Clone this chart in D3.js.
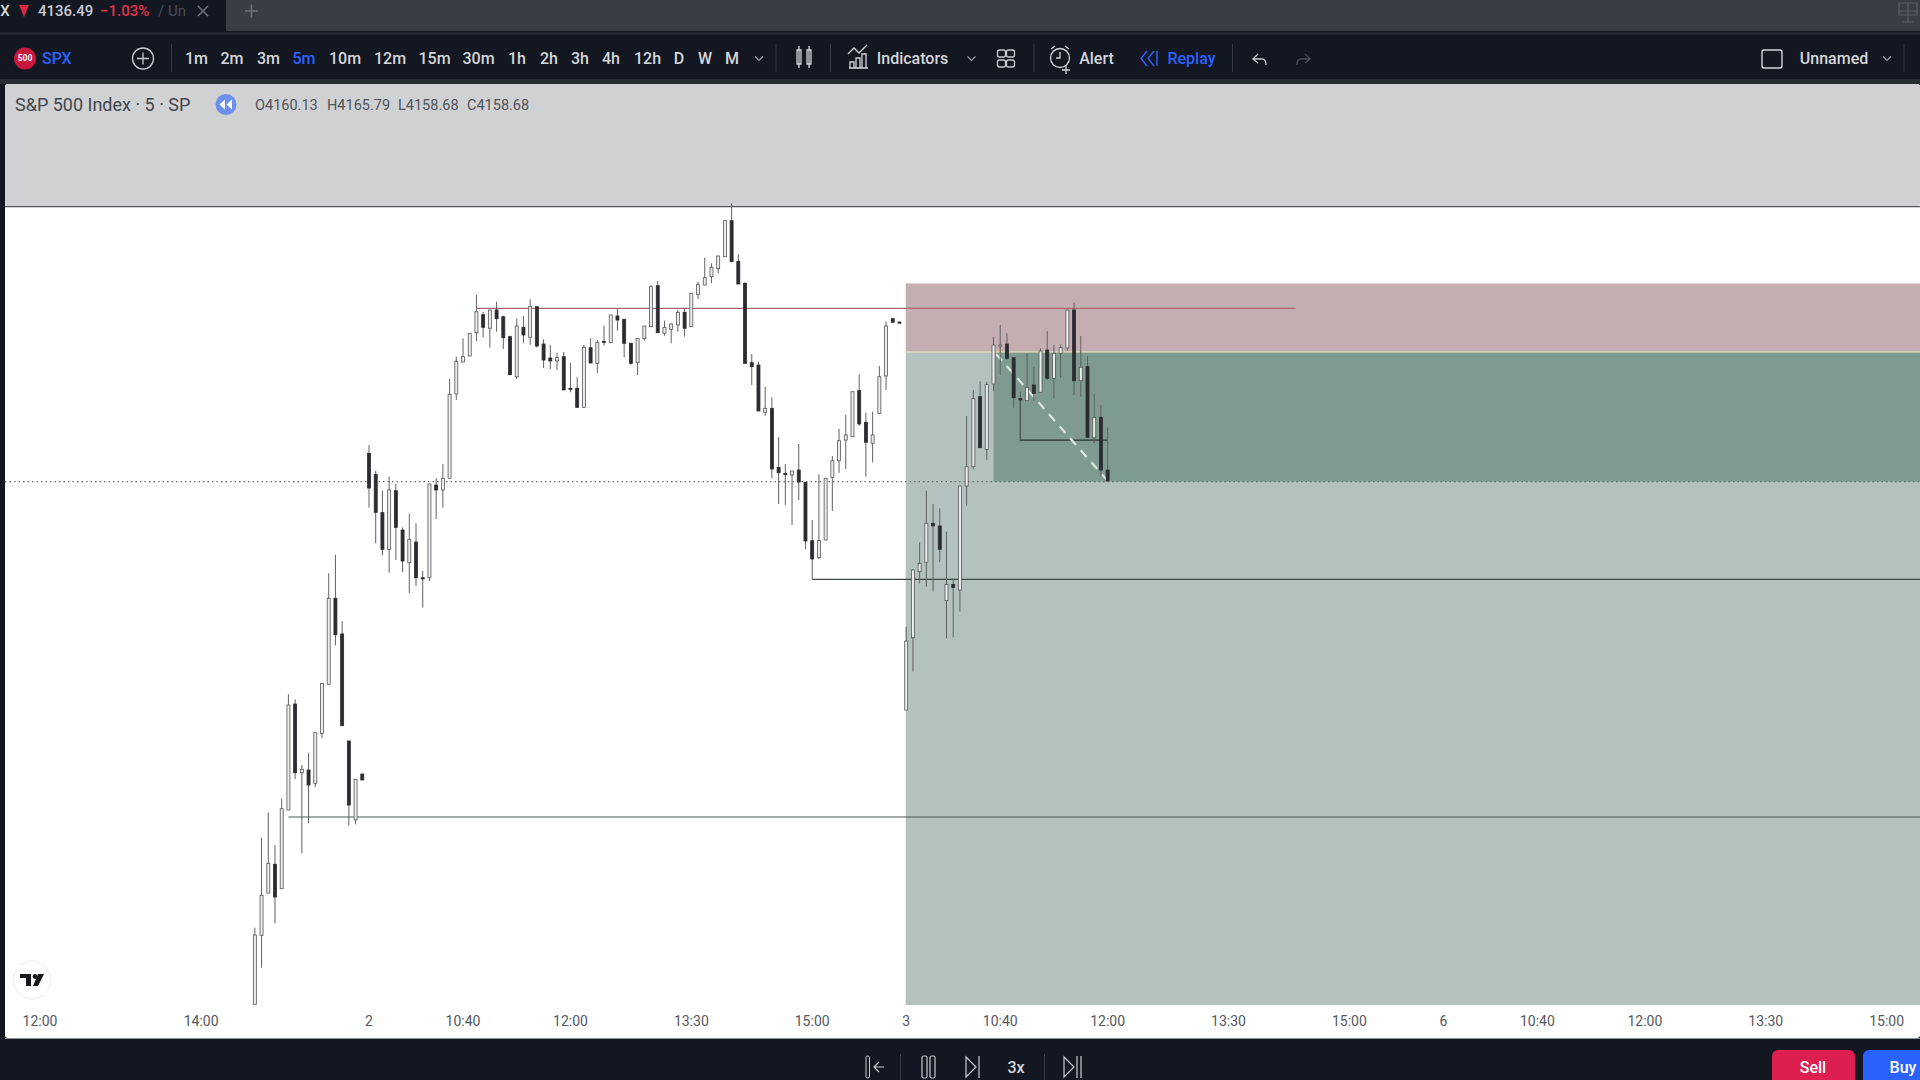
<!DOCTYPE html>
<html>
<head>
<meta charset="utf-8">
<script src="https://cdn.jsdelivr.net/npm/d3@7.9.0/dist/d3.min.js"></script>
<style>
  html, body { margin: 0; padding: 0; background: #131722; overflow: hidden; }
  svg { display: block; font-family: Roboto, sans-serif; }
</style>
</head>
<body>
<svg id="chart" width="1920" height="1080"></svg>
<script>
// 5 minute bars, index 0 is the first bar of the "2" session
const firstBar = -17;
const opens = [
  4088.90,4098.10,4103.74,4107.57,4104.32,4114.81,4128.94,4119.78,4120.14,4118.37,4125.04,4131.57,4143.04,4138.28,4124.01,4113.48,4119.61,
  4162.37,4159.57,4154.45,4149.57,4157.38,4152.14,4147.78,4150.54,4145.78,4145.78,
  4158.14,4157.48,4159.04,4170.28,4174.54,4175.34,4178.45,4180.85,4179.04,4181.48,
  4180.58,4177.92,4172.58,4179.17,4177.84,4181.92,4176.94,4175.08,4174.68,4175.25,
  4171.04,4171.04,4168.50,4176.45,4174.37,4177.30,4177.12,4180.68,4180.24,4177.04,
  4174.45,4177.65,4179.25,4184.72,4178.37,4178.90,4179.48,4181.17,4179.25,4183.57,
  4184.81,4185.92,4186.98,4188.58,4193.38,4187.97,4185.04,4174.45,4174.14,4167.84,
  4168.37,4160.50,4159.70,4159.48,4160.14,4158.50,4150.72,4148.45,4150.81,4159.17,
  4161.38,4164.14,4164.58,4170.72,4166.50,4163.70,4167.70,4172.68,4180.32,4179.88,
  4128.14,4137.78,4146.58,4147.84,4153.04,4152.68,4142.72,4144.90,4144.14,4158.01,
  4160.58,4169.92,4162.90,4171.61,4176.68,4176.94,4175.12,4169.65,4169.38,4171.48,
  4170.50,4176.14,4172.37,4175.70,4176.41,4181.48,4172.05,4173.92,4164.45,4167.17,4160.13
];
const highs = [
  4099.12,4111.12,4114.50,4110.14,4116.37,4130.24,4129.57,4120.81,4122.45,4125.17,4131.70,4146.37,4148.85,4140.01,4124.01,4118.94,4119.61,
  4163.48,4160.01,4157.38,4159.25,4158.28,4152.50,4154.28,4153.04,4146.68,4158.28,
  4159.04,4160.94,4172.28,4175.25,4177.70,4178.37,4183.48,4181.25,4181.48,4182.58,
  4180.72,4178.05,4180.37,4180.68,4182.90,4181.92,4177.57,4176.81,4175.78,4175.88,
  4174.45,4172.50,4176.81,4177.70,4177.48,4179.38,4180.81,4181.70,4180.24,4177.04,
  4177.70,4179.34,4184.81,4185.34,4180.05,4179.70,4181.48,4181.70,4183.70,4185.25,
  4188.45,4187.70,4188.72,4193.38,4195.70,4188.90,4185.17,4175.61,4174.58,4171.25,
  4169.84,4164.54,4160.94,4160.01,4163.61,4158.50,4153.48,4159.57,4159.04,4162.01,
  4165.61,4167.48,4170.58,4172.90,4167.78,4167.92,4174.01,4179.92,4180.32,4179.88,
  4139.25,4146.90,4150.50,4157.38,4155.61,4155.04,4151.92,4145.70,4158.01,4167.34,
  4170.81,4171.97,4171.92,4177.92,4179.48,4178.37,4175.12,4170.58,4175.70,4173.92,
  4176.37,4178.68,4176.81,4176.90,4181.48,4182.45,4178.01,4175.34,4170.28,4168.81,4165.79
];
const lows = [
  4088.90,4093.78,4103.74,4099.70,4104.32,4114.81,4118.94,4109.04,4113.04,4117.84,4124.37,4131.57,4136.77,4126.05,4112.72,4112.90,4118.81,
  4155.12,4150.37,4148.77,4146.45,4148.14,4146.54,4143.70,4144.68,4141.78,4145.34,
  4153.61,4155.12,4159.04,4169.48,4174.54,4175.34,4177.34,4177.84,4176.45,4178.58,
  4176.28,4172.85,4172.28,4177.04,4176.81,4176.45,4173.74,4173.61,4173.48,4170.81,
  4170.50,4168.50,4168.50,4174.41,4173.04,4176.72,4177.12,4178.72,4175.17,4174.18,
  4172.81,4177.38,4179.25,4178.45,4178.05,4177.04,4178.58,4177.92,4179.25,4182.94,
  4184.81,4185.04,4186.37,4188.58,4187.92,4184.94,4174.37,4171.48,4168.01,4167.38,
  4159.04,4155.61,4155.48,4152.81,4156.14,4149.57,4145.57,4148.28,4150.81,4154.68,
  4159.78,4160.28,4164.58,4166.05,4159.25,4161.17,4167.70,4170.81,4179.84,4179.78,
  4128.14,4133.25,4145.04,4144.58,4143.92,4147.84,4137.70,4137.84,4141.25,4155.38,
  4160.24,4163.12,4161.48,4170.68,4172.81,4174.81,4168.45,4164.14,4169.38,4169.38,
  4170.50,4172.14,4169.70,4172.50,4176.01,4170.14,4169.92,4164.50,4163.70,4159.25,4158.68
];
const closes = [
  4098.14,4103.44,4107.70,4103.21,4114.98,4128.81,4119.78,4120.24,4118.14,4125.12,4131.70,4143.04,4138.18,4126.05,4115.48,4118.90,4118.81,
  4157.74,4154.50,4149.57,4157.48,4152.50,4148.01,4150.90,4145.78,4145.70,4158.28,
  4157.48,4159.04,4170.24,4174.64,4175.25,4178.37,4181.25,4179.17,4181.48,4180.32,
  4177.78,4172.85,4179.34,4178.14,4181.92,4176.68,4174.81,4174.68,4175.12,4170.81,
  4170.94,4168.50,4176.50,4174.41,4177.17,4177.17,4180.81,4180.14,4177.04,4174.37,
  4177.70,4179.34,4184.58,4178.45,4179.17,4179.61,4181.17,4179.04,4183.70,4184.85,
  4185.78,4187.17,4188.68,4193.38,4187.92,4184.94,4174.37,4173.92,4168.01,4168.37,
  4160.28,4159.78,4159.52,4160.01,4158.54,4150.68,4148.28,4150.72,4159.04,4161.38,
  4164.05,4164.81,4170.58,4166.28,4163.84,4164.81,4172.58,4179.34,4179.84,4179.78,
  4137.34,4146.81,4147.70,4153.04,4152.68,4149.57,4144.90,4144.50,4158.01,4160.58,
  4169.65,4163.12,4171.52,4176.81,4176.81,4175.04,4169.78,4169.48,4171.17,4170.37,
  4176.01,4172.37,4175.70,4176.45,4181.48,4172.05,4173.84,4164.50,4167.17,4160.14,4158.68
];

const tickBars = [-49, -25, 0, 14, 30, 48, 66, 80, 94, 110, 128, 146, 160, 174, 190, 208, 226];
const tickLabels = ["12:00", "14:00", "2", "10:40", "12:00", "13:30", "15:00", "3", "10:40", "12:00", "13:30", "15:00", "6", "10:40", "12:00", "13:30", "15:00"];

// drawn levels, in price and bar index
const topLevel = 4195.25;
const stopPrice = 4185.01;
const entryPrice = 4175.88;
const targetPrice = 4158.60;
const redLevel = 4181.70, redFrom = 16, redTo = 138;
const midLevel = 4145.57, midFrom = 66;
const lowLevel = 4113.88, lowFrom = -12;
const boxLevel = 4164.14, boxFrom = 97, boxTo = 110, boxTop = 4169.5;
const zoneFrom = 80, zoneDarkFrom = 93;
const dashFrom = [93.4, 4175.6], dashTo = [110, 4158.7];

const timeframes = ["1m", "2m", "3m", "5m", "10m", "12m", "15m", "30m", "1h", "2h", "3h", "4h", "12h", "D", "W", "M"];
const timeframeX = [196.5, 232, 268.5, 304, 345, 390, 434.5, 478.5, 517, 549, 580, 611, 647.5, 679, 705, 732];

const W = 1920, H = 1080;
const paneLeft = 5, paneTop = 84, paneBottom = 1005, axisBottom = 1038;

const x = d3.scaleLinear().domain([0, 226]).range([369, 369 + 226 * 6.715]);
const y = d3.scaleLinear().domain([4211.61, 4088.81]).range([paneTop, paneBottom]);

const svg = d3.select("#chart");

function rect(g, x0, y0, w, h, fill, rx) {
  return g.append("rect").attr("x", x0).attr("y", y0).attr("width", w).attr("height", h).attr("fill", fill).attr("rx", rx || 0);
}
function label(g, tx, ty, str, size, fill, anchor, weight) {
  return g.append("text").attr("x", tx).attr("y", ty).attr("dy", "0.35em").text(str)
    .attr("font-size", size).attr("fill", fill).attr("text-anchor", anchor || "middle").attr("font-weight", weight || 400);
}

// ---- chrome
const chrome = svg.append("g");
rect(chrome, 0, 0, W, H, "#131722");
rect(chrome, 226, 0, W - 226, 31, "#3a3d46", 0);
rect(chrome, 0, 32, W, 3, "#23262e");
rect(chrome, 0, 79, W, 5, "#2a2d35");
rect(chrome, paneLeft, paneTop, W - paneLeft, axisBottom - paneTop, "#ffffff", 3);
rect(chrome, paneLeft, axisBottom, W, 1, "#8a8c90");

// tab strip
label(chrome, 5, 11, "X", 15, "#d6d8dc", "middle", 500);
chrome.append("path").attr("d", "M19,5 L29,5 L24,17 Z").attr("fill", "#d8283f");
label(chrome, 38, 11, "4136.49", 15, "#c8cad0", "start", 500);
label(chrome, 100, 11, "−1.03%", 15, "#e0324c", "start", 500);
label(chrome, 158, 11, "/ Un", 15, "#4a4d58", "start");
chrome.append("path").attr("d", "M198,6 L208,16 M208,6 L198,16").attr("stroke", "#6f727c").attr("stroke-width", 1.5);
chrome.append("path").attr("d", "M245,11 L258,11 M251.5,4.5 L251.5,17.5").attr("stroke", "#6f727c").attr("stroke-width", 1.5);
chrome.append("path").attr("d", "M1899,3 h18 v12 h-18 Z M1908,15 v7 M1903,22 h10 M1908,3 v12 M1899,11 h18")
  .attr("fill", "none").attr("stroke", "#5c5f69").attr("stroke-width", 1.2);

// toolbar
const toolY = 58.5;
chrome.append("circle").attr("cx", 25).attr("cy", toolY).attr("r", 11).attr("fill", "#c8173c");
label(chrome, 25, toolY, "500", 8.5, "#ffffff", "middle", 700);
label(chrome, 42, toolY, "SPX", 16, "#2962ff", "start", 500);
chrome.append("circle").attr("cx", 143).attr("cy", toolY).attr("r", 10.5).attr("fill", "none").attr("stroke", "#c8cad0").attr("stroke-width", 1.3);
chrome.append("path").attr("d", `M137,${toolY} h12 M143,${toolY - 6} v12`).attr("stroke", "#c8cad0").attr("stroke-width", 1.3);
timeframes.forEach((t, i) => {
  label(chrome, timeframeX[i], toolY, t, 16, t === "5m" ? "#2962ff" : "#d4d6db", "middle", 500);
});
function chevron(cx, col) {
  chrome.append("path").attr("d", `M${cx - 4},${toolY - 2} L${cx},${toolY + 2} L${cx + 4},${toolY - 2}`)
    .attr("fill", "none").attr("stroke", col || "#9a9ca4").attr("stroke-width", 1.2);
}
chevron(759);
[171, 775.5, 830, 1033.5, 1232, 1903.5].forEach(sx => rect(chrome, sx, 44, 1, 28, "#363a45"));
// candle icon
chrome.append("path").attr("d", "M797,50 h4 v14 h-4 Z M807,50 h4 v14 h-4 Z M799,46 v22 M809,46 v22")
  .attr("fill", "none").attr("stroke", "#d4d6db").attr("stroke-width", 1.3);
// indicators
chrome.append("path").attr("d", "M849,68 h19 M850,68 v-6 h4 v6 M856,68 v-10 h4 v10 M862,68 v-14 h4 v14 M848,54 L854,48 L859,53 L867,45")
  .attr("fill", "none").attr("stroke", "#d4d6db").attr("stroke-width", 1.3);
label(chrome, 912.5, toolY, "Indicators", 16, "#d4d6db", "middle", 500);
chevron(971.5);
[[1001.5, 50], [1010.5, 50], [1001.5, 60], [1010.5, 60]].forEach(p => {
  chrome.append("rect").attr("x", p[0] - 4).attr("y", p[1]).attr("width", 8).attr("height", 7).attr("rx", 2)
    .attr("fill", "none").attr("stroke", "#c8cad0").attr("stroke-width", 1.3);
});
// alert
chrome.append("circle").attr("cx", 1060).attr("cy", 58).attr("r", 9.5).attr("fill", "none").attr("stroke", "#d4d6db").attr("stroke-width", 1.3);
chrome.append("path").attr("d", "M1060,52 v6 h-4 M1051,49 l4,-3 M1069,49 l-4,-3 M1066,66 v8 M1062,70 h8")
  .attr("fill", "none").attr("stroke", "#d4d6db").attr("stroke-width", 1.3);
label(chrome, 1096.5, toolY, "Alert", 16, "#d4d6db", "middle", 500);
// replay
chrome.append("path").attr("d", "M1147,51 L1141,58.5 L1147,66 M1154,51 L1148,58.5 L1154,66 M1157,51 V66")
  .attr("fill", "none").attr("stroke", "#2962ff").attr("stroke-width", 1.4);
label(chrome, 1191.5, toolY, "Replay", 16, "#2962ff", "middle", 500);
// undo, redo
chrome.append("path").attr("d", "M1258,54 l-5,5 l5,4 M1253,59 h9 q4,0 4,6").attr("fill", "none").attr("stroke", "#c8cad0").attr("stroke-width", 1.3);
chrome.append("path").attr("d", "M1305,54 l5,5 l-5,4 M1310,59 h-9 q-4,0 -4,6").attr("fill", "none").attr("stroke", "#4a4d58").attr("stroke-width", 1.3);
chrome.append("rect").attr("x", 1762).attr("y", 50).attr("width", 20).attr("height", 18).attr("rx", 2)
  .attr("fill", "none").attr("stroke", "#d4d6db").attr("stroke-width", 1.4);
label(chrome, 1834, toolY, "Unnamed", 16, "#d4d6db", "middle", 500);
chevron(1887);

// ---- pane
const pane = svg.append("g");
const right = W;
rect(pane, paneLeft, paneTop, W - paneLeft, y(topLevel) - paneTop, "#cfd1d3", 3);

// position zones
rect(pane, x(zoneFrom) - 0.5, y(stopPrice), right - x(zoneFrom) + 0.5, y(entryPrice) - y(stopPrice), "#c5aeb1");
rect(pane, x(zoneFrom) - 0.5, y(entryPrice), right - x(zoneFrom) + 0.5, paneBottom - y(entryPrice), "#b3c2be");
rect(pane, x(zoneDarkFrom), y(entryPrice), right - x(zoneDarkFrom), y(targetPrice) - y(entryPrice), "#7f9a90");

function hline(price, from, to, col, extra) {
  const l = pane.append("line").attr("x1", from).attr("x2", to).attr("y1", y(price)).attr("y2", y(price))
    .attr("stroke", col).attr("stroke-width", 1.2);
  if (extra) l.attr("stroke-dasharray", extra);
  return l;
}
hline(entryPrice, x(zoneFrom), right, "#efeccb");
hline(topLevel, paneLeft, right, "#55575c");
hline(targetPrice, paneLeft, right, "#6b6e73", "1.5 3");
hline(redLevel, x(redFrom), x(redTo), "#a9686f");
hline(midLevel, x(midFrom), right, "#3f4a49");
hline(lowLevel, x(lowFrom), right, "#4e5654");

// box drawing and dashed path
pane.append("path")
  .attr("d", d3.line()([[x(boxFrom), y(boxTop)], [x(boxFrom), y(boxLevel)], [x(boxTo), y(boxLevel)]]))
  .attr("fill", "none").attr("stroke", "#24352f").attr("stroke-width", 1.2);
pane.append("line")
  .attr("x1", x(dashFrom[0])).attr("y1", y(dashFrom[1])).attr("x2", x(dashTo[0])).attr("y2", y(dashTo[1]))
  .attr("stroke", "#dbe7e0").attr("stroke-width", 2.2).attr("stroke-dasharray", "9 7");

// ---- candles
const bars = d3.range(opens.length).map(i => ({
  i: i + firstBar, o: opens[i], h: highs[i], l: lows[i], c: closes[i]
}));
const candles = svg.append("g").selectAll("g").data(bars).join("g");
candles.append("line")
  .attr("x1", d => x(d.i)).attr("x2", d => x(d.i))
  .attr("y1", d => y(d.h)).attr("y2", d => y(d.l))
  .attr("stroke", "#5f6163").attr("stroke-width", 1);
candles.append("rect")
  .attr("x", d => x(d.i) - 1.5).attr("width", 3)
  .attr("y", d => y(Math.max(d.o, d.c)))
  .attr("height", d => Math.max(1.2, Math.abs(y(d.o) - y(d.c))))
  .attr("fill", d => d.c >= d.o ? "#ececec" : "#2b2c30")
  .attr("stroke", d => d.c >= d.o ? "#55575b" : "#2b2c30")
  .attr("stroke-width", 0.8);

// ---- time axis
const axis = d3.axisBottom(x).tickValues(tickBars).tickFormat((d, i) => tickLabels[i]).tickSize(0).tickPadding(0);
const axisG = svg.append("g").attr("transform", "translate(-0.5,1016)").call(axis);
axisG.select(".domain").remove();
axisG.selectAll("text").attr("font-size", 14).attr("fill", "#555860").attr("font-family", "Roboto, sans-serif");

// ---- legend
const legend = svg.append("g");
label(legend, 15, 104.5, "S&P 500 Index · 5 · SP", 18, "#43464d", "start");
legend.append("circle").attr("cx", 226).attr("cy", 104.5).attr("r", 10.5).attr("fill", "#6f8fef");
legend.append("path").attr("d", "M225,99.5 L219.5,104.5 L225,109.5 Z M232,99.5 L226.5,104.5 L232,109.5 Z").attr("fill", "#ffffff");
["O4160.13", "H4165.79", "L4158.68", "C4158.68"].forEach((s, i) => {
  label(legend, [255, 327, 398, 467][i], 105, s, 14.5, "#50535a", "start");
});

// tv logo
svg.append("circle").attr("cx", 32).attr("cy", 980).attr("r", 19).attr("fill", "#ffffff").attr("stroke", "#eeeeee");
svg.append("path").attr("d", "M20,974 h11 v12 h-5 v-8 h-6 Z M38,974 h6 l-6,12 h-5 Z").attr("fill", "#17181c");
svg.append("circle").attr("cx", 35).attr("cy", 976.5).attr("r", 2.4).attr("fill", "#17181c");

// ---- bottom bar
const foot = svg.append("g");
const footY = 1067;
const iconCol = "#c8cad0";
foot.append("rect").attr("x", 866).attr("y", 1056).attr("width", 3.5).attr("height", 22).attr("rx", 1.5).attr("fill", "none").attr("stroke", iconCol);
foot.append("path").attr("d", `M884,${footY} h-10 M879,${footY - 5} l-5,5 l5,5`).attr("fill", "none").attr("stroke", iconCol).attr("stroke-width", 1.2);
rect(foot, 900, 1054, 1, 26, "#363a45");
[922, 930].forEach(px => foot.append("rect").attr("x", px).attr("y", 1056).attr("width", 5).attr("height", 22).attr("rx", 1.5)
  .attr("fill", "none").attr("stroke", iconCol).attr("stroke-width", 1.2));
foot.append("path").attr("d", `M966,1057 L976,${footY} L966,1077 Z M979,1056 V1078`).attr("fill", "none").attr("stroke", iconCol).attr("stroke-width", 1.2);
label(foot, 1016, footY, "3x", 16, "#d4d6db", "middle", 500);
rect(foot, 1044, 1054, 1, 26, "#363a45");
foot.append("path").attr("d", `M1064,1057 L1074,${footY} L1064,1077 Z M1077,1056 V1078 M1081,1056 V1078`).attr("fill", "none").attr("stroke", iconCol).attr("stroke-width", 1.2);
rect(foot, 1772, 1050, 83, 36, "#dc1f4e", 6);
label(foot, 1813, footY, "Sell", 16, "#ffffff", "middle", 500);
rect(foot, 1863, 1050, 70, 36, "#2962ff", 6);
label(foot, 1903, footY, "Buy", 16, "#ffffff", "middle", 500);
</script>
</body>
</html>
